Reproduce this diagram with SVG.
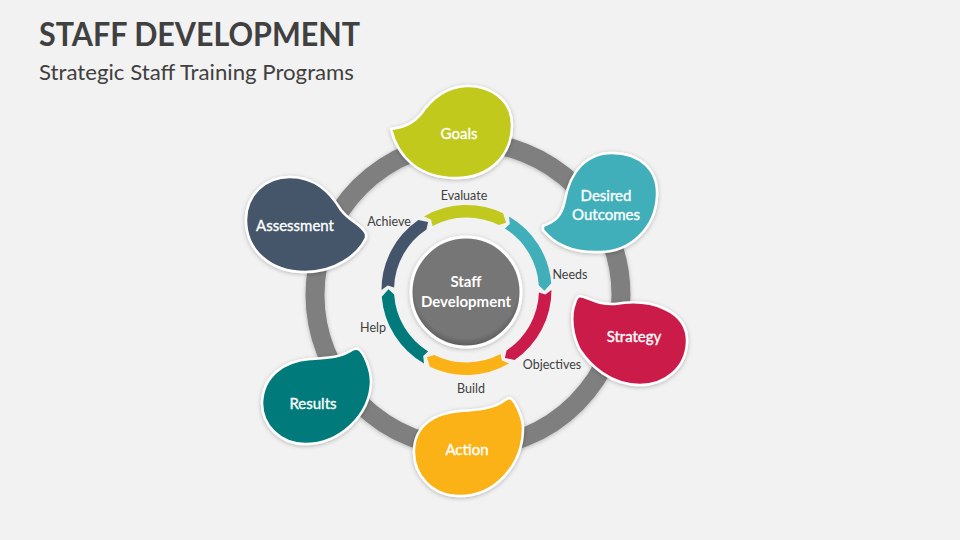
<svg xmlns="http://www.w3.org/2000/svg" width="960" height="540" viewBox="0 0 960 540">
<style>
text{font-family:Lato,"Liberation Sans",sans-serif}
.t{font-size:32px;font-weight:700;fill:#404040}
.s{font-size:22px;fill:#404040}
.w{font-size:15px;fill:#fff;stroke:#fff;stroke-width:.35;text-anchor:middle}
.c{font-size:15px;font-weight:700;fill:#fff;text-anchor:middle}
.l{font-size:12.5px;fill:#404040;text-anchor:middle}
.d{stroke:#fff;stroke-width:2.5;filter:url(#sh)}
</style>
<defs>
<filter id="sh" x="-15%" y="-15%" width="130%" height="130%"><feDropShadow dx="0" dy="1" stdDeviation="2" flood-color="#000" flood-opacity=".25"/></filter>
<radialGradient id="cg" cx=".5" cy=".45" r=".55"><stop offset=".85" stop-color="#767676"/><stop offset="1" stop-color="#5a5a5a"/></radialGradient>
<path id="seg" d="M-42.5 -73.6A85 85 0 0 1 36.6 -76.7L39.6 -67.2L32.3 -64.9A72.5 72.5 0 0 0 -34 -64L-35.5 -70.5Z"/>
</defs>
<rect width="960" height="540" fill="#f2f2f2"/>
<text class="t" x="39" y="46" textLength="321" lengthAdjust="spacingAndGlyphs">STAFF DEVELOPMENT</text>
<text class="s" x="39" y="80" textLength="315" lengthAdjust="spacingAndGlyphs">Strategic Staff Training Programs</text>
<g id="connectors">
<circle cx="468" cy="295" r="153" fill="none" stroke="#7f7f7f" stroke-width="19" filter="url(#sh)"/>
<g transform="translate(466.5 290)">
<use href="#seg" fill="#c1c91f"/>
<use href="#seg" fill="#40afb9" transform="rotate(60)"/>
<use href="#seg" fill="#cb1b4a" transform="rotate(120)"/>
<use href="#seg" fill="#fbb216" transform="rotate(180)"/>
<use href="#seg" fill="#007a7a" transform="rotate(240)"/>
<use href="#seg" fill="#44546a" transform="rotate(300)"/>
</g>
</g>
<g id="center"><circle cx="466" cy="292" r="55" fill="url(#cg)" stroke="#fff" stroke-width="3" filter="url(#sh)"/>
<text class="c" x="466" y="287">Staff</text><text class="c" x="466" y="307">Development</text></g>
<g id="goals"><path class="d" fill="#c1c91f" d="M391 129C402 128 412 125 421 114C432 98 447 87 466 86C490 85 512 100 512 125C512 155 490 178 456 178C420 178 398 158 391 129Z"/><text class="w" x="459" y="139">Goals</text></g>
<g id="desired-outcomes"><path class="d" fill="#40afb9" d="M543 226C555 222 562 216 565 200C570 172 586 153 612 153C640 153 658 170 657 195C656 228 630 252 600 252C575 253 555 245 543 230Z"/><text class="w" x="606" y="201">Desired</text><text class="w" x="606" y="220">Outcomes</text></g>
<g id="strategy"><path class="d" fill="#cb1b4a" d="M580 296C590 298 597 305 615 304C650 298 688 310 687 342C686 368 665 385 640 385C610 385 590 365 580 350C572 335 570 315 575 303Q577 296 580 296Z"/><text class="w" x="634" y="342">Strategy</text></g>
<g id="action"><path class="d" fill="#fbb216" d="M510 398C515 400 523 418 523 428C523 465 495 496 460 496C432 496 413 475 414 450C415 425 435 413 460 411C480 410 495 408 505 400Q508 398 510 398Z"/><text class="w" x="467" y="455">Action</text></g>
<g id="results"><path class="d" fill="#007a7a" d="M358 349C364 352 371 370 371 382C370 415 340 444 305 444C280 444 262 425 262 403C263 375 285 361 310 359C325 358 340 358 352 350Q355 348 358 349Z"/><text class="w" x="313" y="409">Results</text></g>
<g id="assessment"><path class="d" fill="#44546a" d="M366 234C362 224 350 222 341 210C330 192 315 177 290 177C265 177 246 195 246 220C246 250 270 272 305 272C335 272 358 255 366 238Z"/><text class="w" x="295" y="231">Assessment</text></g>
<g id="labels">
<text class="l" x="464" y="200">Evaluate</text>
<text class="l" x="389" y="226">Achieve</text>
<text class="l" x="570" y="279">Needs</text>
<text class="l" x="552" y="369">Objectives</text>
<text class="l" x="471" y="393">Build</text>
<text class="l" x="373" y="332">Help</text>
</g>
</svg>
